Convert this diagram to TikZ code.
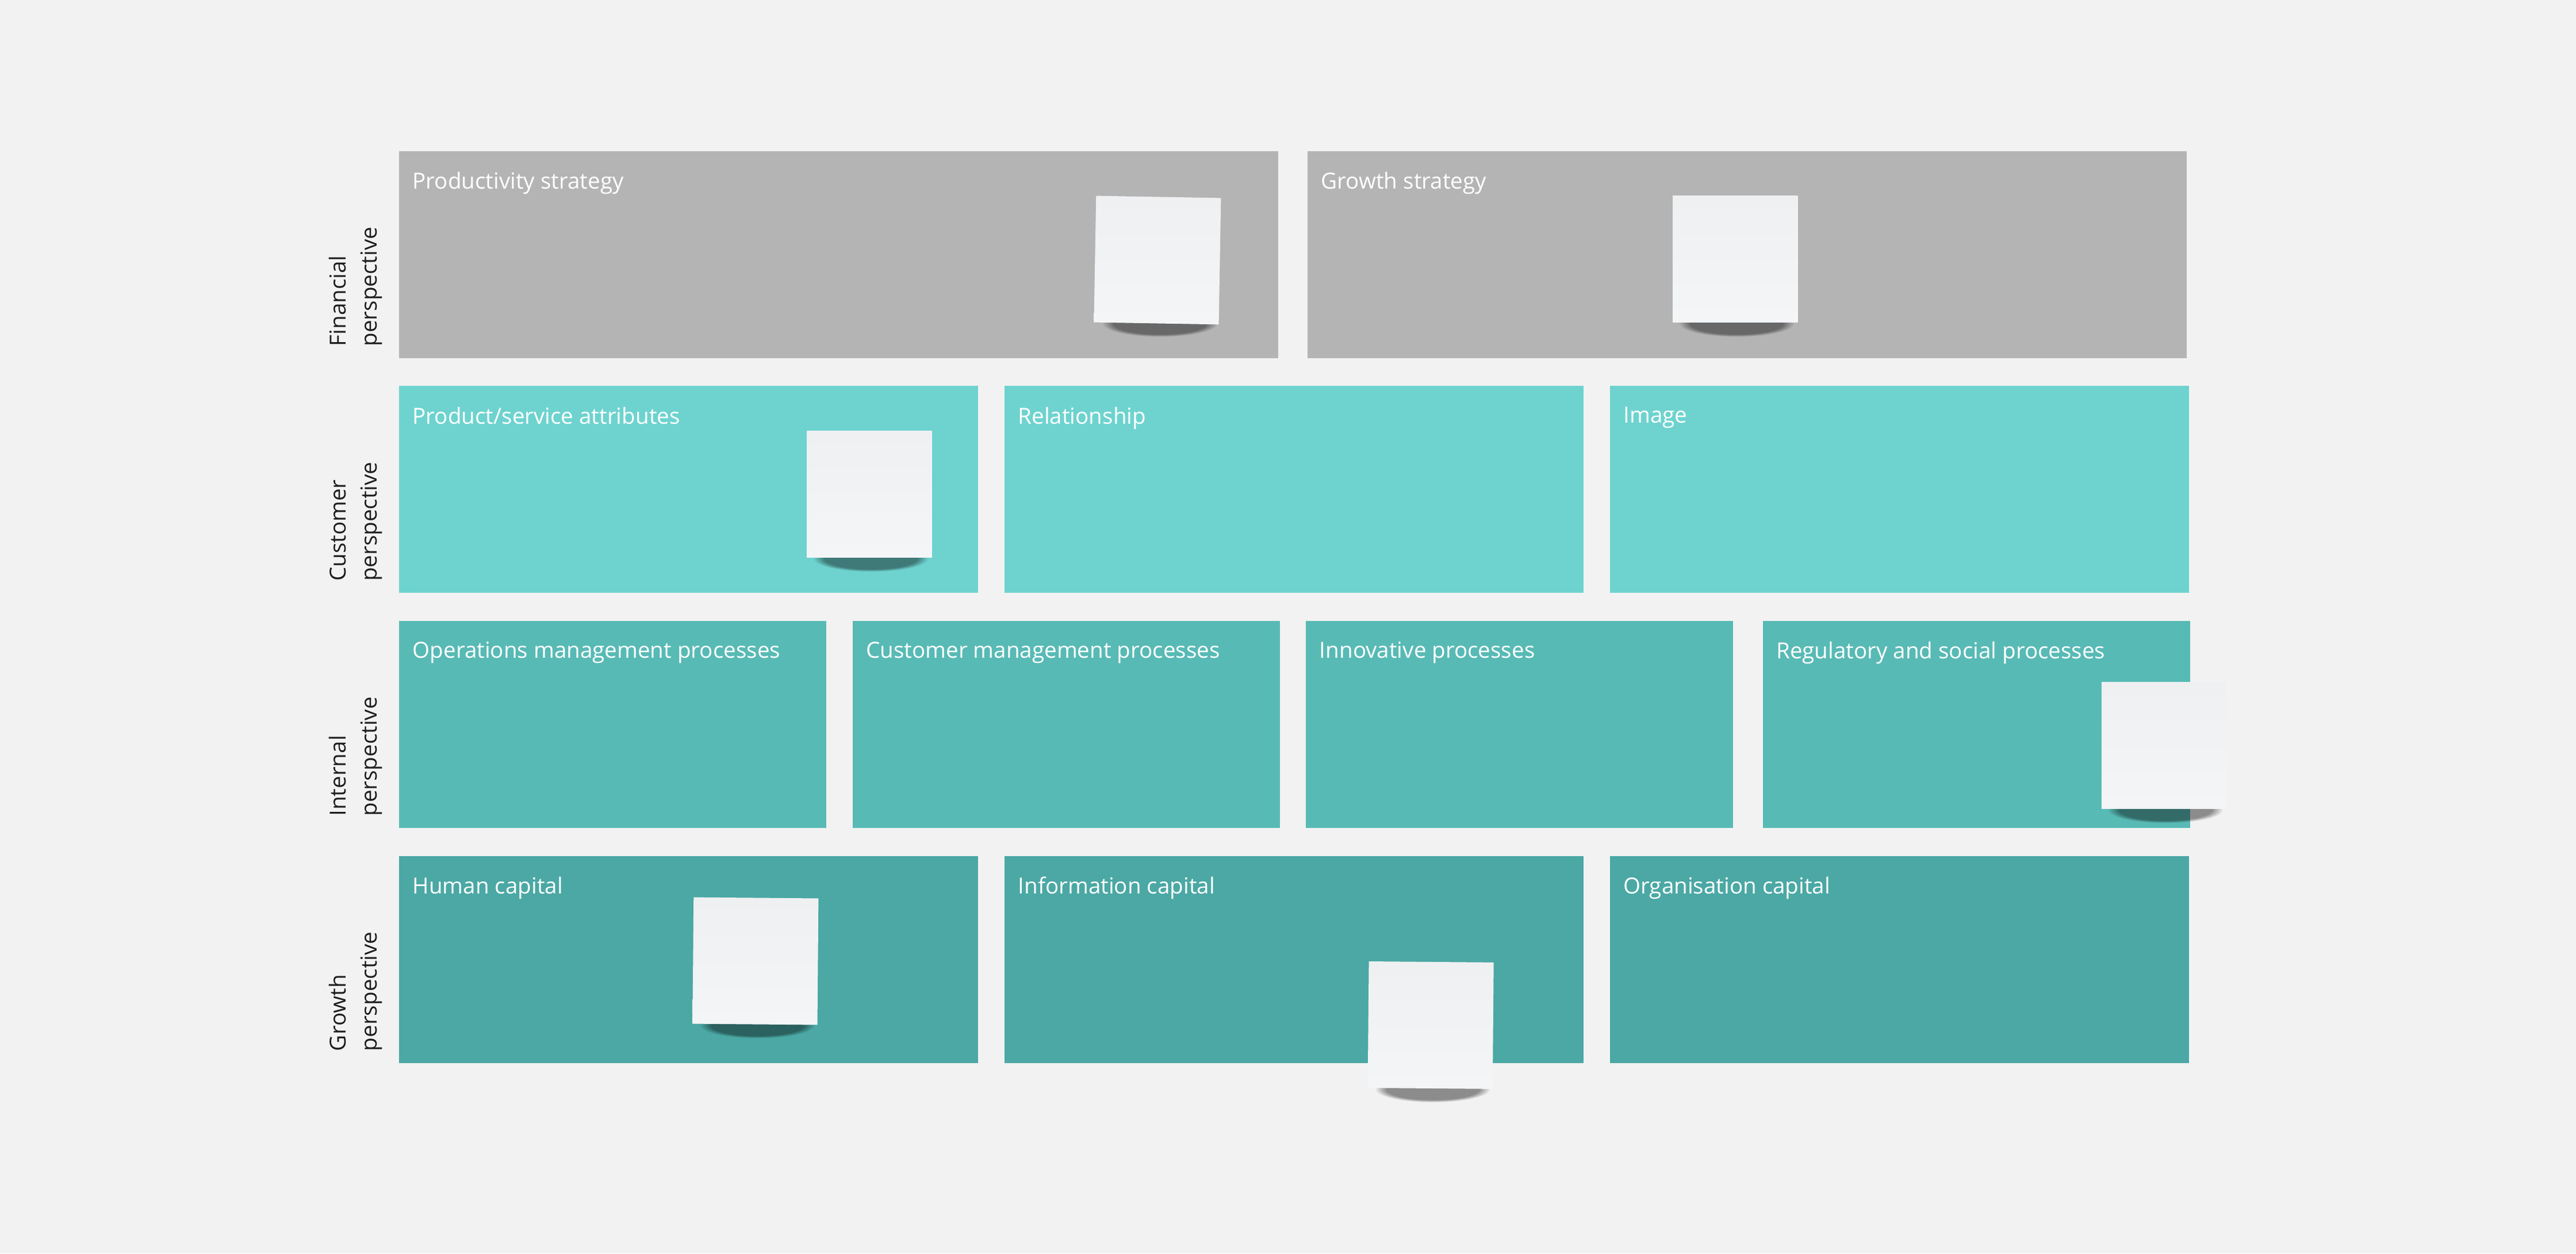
\documentclass[tikz,border=0pt]{standalone}
\usepackage{fontspec}
\setmainfont{Open Sans}
\usetikzlibrary{positioning,fadings,calc}
\definecolor{bgcol}{HTML}{F2F2F2}
\definecolor{fincol}{HTML}{B4B4B4}
\definecolor{custcol}{HTML}{6ED3CF}
\definecolor{intcol}{HTML}{58BAB5}
\definecolor{growcol}{HTML}{4BA8A4}
\definecolor{notetop}{HTML}{EEF0F2}
\definecolor{notebot}{HTML}{F3F5F7}
\definecolor{sidecol}{HTML}{1E1E1E}
\tikzset{
  lane/.style={minimum height=126pt, inner sep=0pt, outer sep=0pt, anchor=north west},
  finbox/.style={lane, fill=fincol, minimum width=535pt},
  custbox/.style={lane, fill=custcol, minimum width=352.5pt},
  intbox/.style={lane, fill=intcol, minimum width=260pt},
  growbox/.style={lane, fill=growcol, minimum width=352.5pt},
  title/.style={anchor=north west, inner sep=0pt, text=white,
    font=\fontsize{13.5}{16}\selectfont, xshift=8pt, yshift=-12.5pt},
  side/.style={rotate=90, anchor=south west, align=left, inner sep=0pt,
    text=sidecol, font=\fontsize{13.5}{19}\selectfont},
  note/.style={minimum width=76pt, minimum height=77pt, inner sep=0pt,
    anchor=north west, top color=notetop, bottom color=notebot},
  noteshadow/.style={black, opacity=0.42,
    path fading=circle with fuzzy edge 20 percent}
}
% draws a sticky note with its shadow: name, corner, tilt
\newcommand{\sticky}[3]{%
  \coordinate (#1-c) at #2;
  \fill[noteshadow] ($(#1-c)+(39,78)$) ellipse (35pt and 8pt);
  \node[note, rotate=#3] (#1) at (#1-c) {};
}
\begin{document}
\begin{tikzpicture}[x=1pt, y=-1pt]
\fill[bgcol] (0,0) rectangle (1568,763);
\useasboundingbox (0,0) rectangle (1568,763);

% financial
\node[finbox] (prod) at (243,92) {};
\node[finbox, right=18pt of prod.north east, anchor=north west] (grst) {};
% customer
\node[custbox, below=17pt of prod.south west, anchor=north west] (attr) {};
\node[custbox, right=16pt of attr.north east, anchor=north west] (rel) {};
\node[custbox, right=16pt of rel.north east, anchor=north west] (img) {};
% internal
\node[intbox, below=17pt of attr.south west, anchor=north west] (ops) {};
\node[intbox, right=16pt of ops.north east, anchor=north west] (cmp) {};
\node[intbox, right=16pt of cmp.north east, anchor=north west] (inno) {};
\node[intbox, right=18pt of inno.north east, anchor=north west] (reg) {};
% growth
\node[growbox, below=17pt of ops.south west, anchor=north west] (hum) {};
\node[growbox, right=16pt of hum.north east, anchor=north west] (info) {};
\node[growbox, right=16pt of info.north east, anchor=north west] (org) {};

\node[title] (t1) at (prod.north west) {Productivity strategy};
\node[title] (t2) at (grst.north west) {Growth strategy};
\node[title] (t3) at (attr.north west) {Product/service attributes};
\node[title] (t4) at (rel.north west) {Relationship};
\node[title] (t5) at (img.north west) {Image};
\node[title] (t6) at (ops.north west) {Operations management processes};
\node[title] (t7) at (cmp.north west) {Customer management processes};
\node[title] (t8) at (inno.north west) {Innovative processes};
\node[title] (t9) at (reg.north west) {Regulatory and social processes};
\node[title] (t10) at (hum.north west) {Human capital};
\node[title] (t11) at (info.north west) {Information capital};
\node[title] (t12) at (org.north west) {Organisation capital};

\node[side] (sfin) at ([xshift=-10pt, yshift=7pt]prod.south west) {Financial\\perspective};
\node[side] (scust) at ([xshift=-10pt, yshift=7pt]attr.south west) {Customer\\perspective};
\node[side] (sint) at ([xshift=-10pt, yshift=7pt]ops.south west) {Internal\\perspective};
\node[side] (sgrow) at ([xshift=-10pt, yshift=7pt]hum.south west) {Growth\\perspective};

% sticky notes
\sticky{n1}{(667,119)}{-1}
\sticky{n2}{(1018,119)}{0}
\sticky{n3}{(491,262)}{0}
\sticky{n4}{(1279,415)}{0}
\sticky{n5}{(422,546)}{-0.5}
\sticky{n6}{(833,585)}{-0.5}
\end{tikzpicture}
\end{document}
